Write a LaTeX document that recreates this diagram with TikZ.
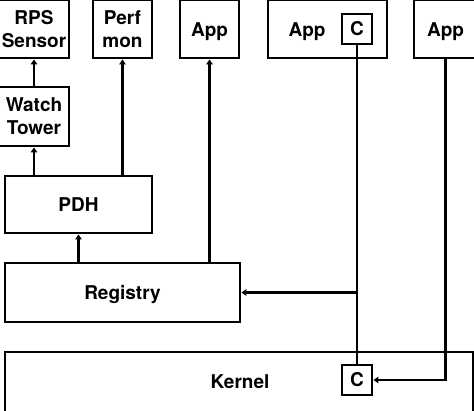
\documentclass[tikz,border=0pt]{standalone}
\usepackage{fontspec}
\setmainfont{TeX Gyre Heros}
\usetikzlibrary{arrows.meta}
\newcommand{\lowered}[2]{\raisebox{#1}[\height][\depth]{#2}}
\begin{document}
\begin{tikzpicture}[x=1pt,y=-1pt,
  box/.style={draw,line width=2.9pt,rectangle,inner sep=0pt,align=center,
    font=\fontsize{19}{23}\selectfont\bfseries},
  lbl/.style={inner sep=0pt,font=\fontsize{19}{23}\selectfont\bfseries},
  conn/.style={line width=2.9pt},
  arr/.style={line width=2.9pt,-{Triangle[length=5pt,width=6.5pt]}}]
\useasboundingbox (0,0) rectangle (474,410);
\clip (0,0) rectangle (474,410);
\node[box,minimum width=70pt,minimum height=58pt] (rps) at (34,29) {RPS\\Sensor};
\node[box,minimum width=59pt,minimum height=58pt] (perf) at (122.5,29) {Perf\\mon};
\node[box,minimum width=59pt,minimum height=58pt] (app1) at (209.5,29) {\lowered{-3pt}{App}};
\node[box,minimum width=119pt,minimum height=58pt] (app2) at (327.5,29) {};
\node[lbl] (app2t) at (307,32) {App};
\node[box,minimum width=30pt,minimum height=30pt] (c1) at (357,29) {C};
\node[box,minimum width=63pt,minimum height=58pt] (app3) at (445.5,29) {\lowered{-3pt}{App}};
\node[box,minimum width=70pt,minimum height=59pt] (watch) at (34,116.5) {Watch\\Tower};
\node[box,minimum width=147pt,minimum height=57pt] (pdh) at (78.5,204.5) {PDH};
\node[box,minimum width=235pt,minimum height=59pt] (reg) at (122.5,292.5) {\lowered{-1.5pt}{Registry}};
\node[box,minimum width=468pt,minimum height=62pt] (kern) at (239,383) {};
\node[lbl] (kernt) at (240,382) {Kernel};
\node[box,minimum width=30pt,minimum height=30pt] (c2) at (357,380) {C};
\draw[arr] (watch.north) -- (rps.south);
\draw[arr] (pdh.north -| watch) -- (watch.south);
\draw[arr] (pdh.north -| perf) -- (perf.south);
\draw[arr] (reg.north -| pdh) -- (pdh.south);
\draw[arr] (reg.north -| app1) -- (app1.south);
\draw[conn] (c1.south) -- (c2.north);
\draw[arr] (c1 |- reg.east) -- (reg.east);
\draw[arr] (app3.south) -- (app3 |- c2) -- (c2.east);
\end{tikzpicture}
\end{document}
